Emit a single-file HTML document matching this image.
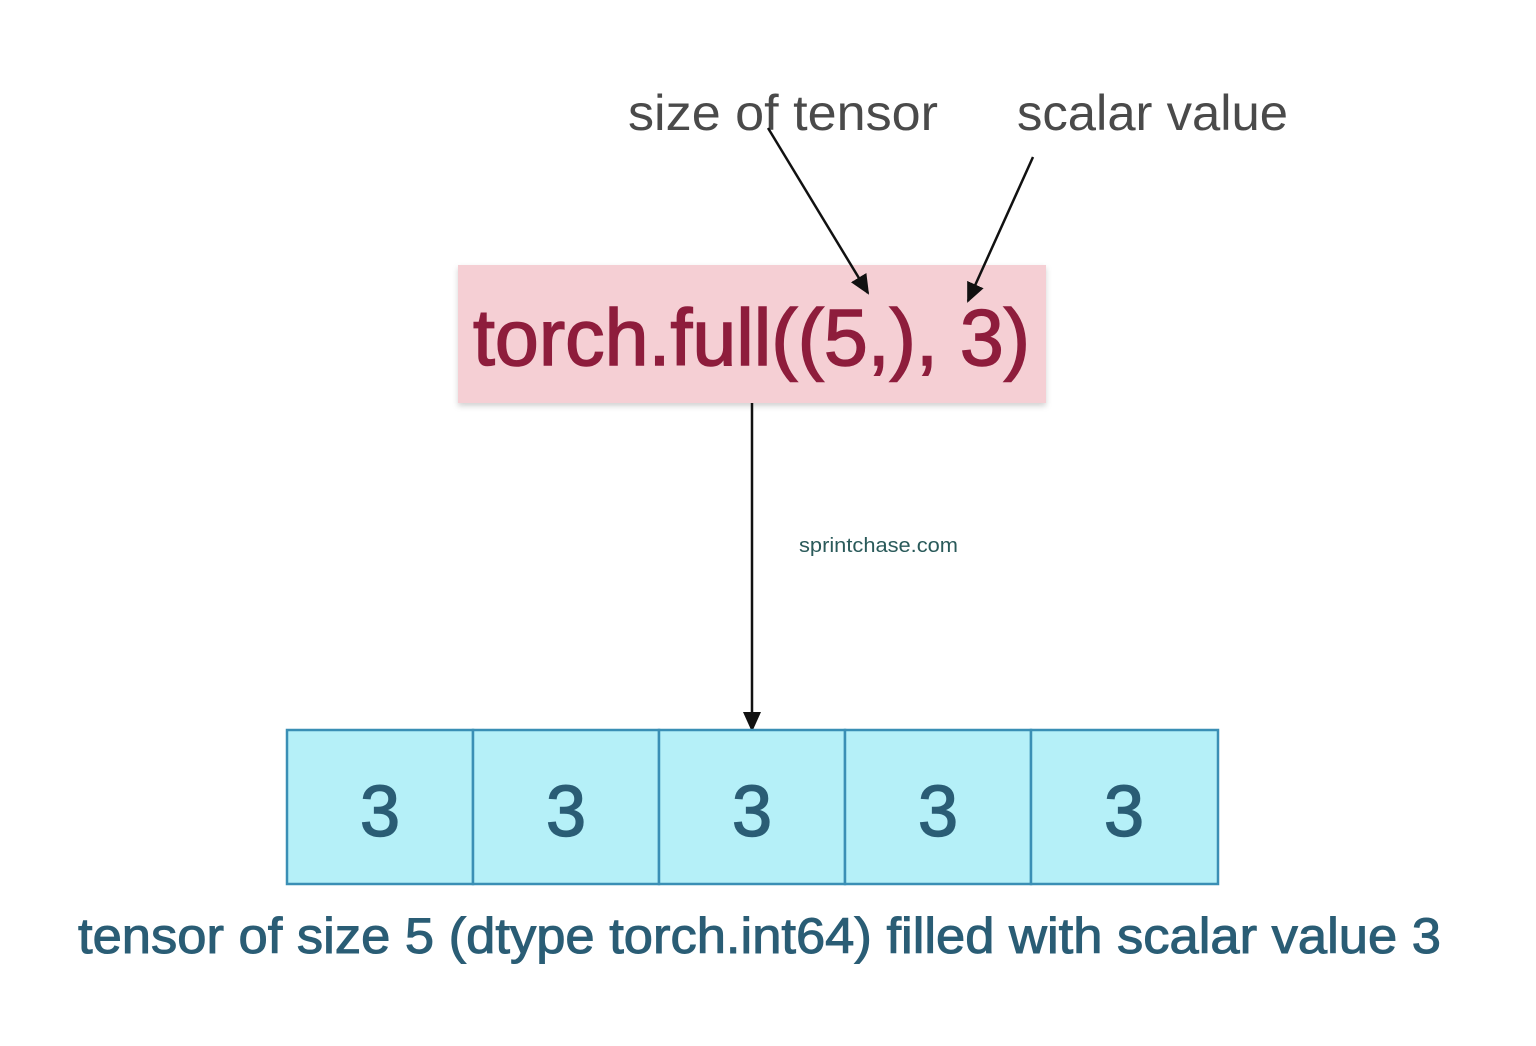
<!DOCTYPE html>
<html><head><meta charset="utf-8"><style>
html,body{margin:0;padding:0;background:#fff;}
svg{display:block;}
text{font-family:"Liberation Sans","DejaVu Sans",sans-serif;}
</style></head><body>
<svg width="1536" height="1046" viewBox="0 0 1536 1046" xmlns="http://www.w3.org/2000/svg">
<defs>
<marker id="ah2" markerWidth="20" markerHeight="20" refX="18" refY="10" orient="auto" markerUnits="userSpaceOnUse" viewBox="0 0 20 20">
<path d="M0,1 L20,10 L0,19 z" fill="#111"/>
</marker>
<filter id="sh" x="-5%" y="-10%" width="110%" height="130%"><feDropShadow dx="0" dy="3" stdDeviation="3" flood-color="#000" flood-opacity="0.18"/></filter>
</defs>
<text x="628" y="130" font-size="50" fill="#4a4a4a" textLength="310" lengthAdjust="spacingAndGlyphs">size of tensor</text>
<text x="1017" y="130" font-size="50" fill="#4a4a4a" textLength="271" lengthAdjust="spacingAndGlyphs">scalar value</text>
<rect x="458" y="265" width="588" height="138" fill="#f5cfd4" filter="url(#sh)"/>
<text x="473" y="365" font-size="80" fill="#8e1d3c" stroke="#8e1d3c" stroke-width="1.5" textLength="557" lengthAdjust="spacingAndGlyphs">torch.full((5,), 3)</text>
<line x1="768" y1="128" x2="868" y2="293" stroke="#111" stroke-width="2.5" marker-end="url(#ah2)"/>
<line x1="1033" y1="157" x2="968" y2="301" stroke="#111" stroke-width="2.5" marker-end="url(#ah2)"/>
<line x1="752" y1="403" x2="752" y2="730" stroke="#111" stroke-width="2.5" marker-end="url(#ah2)"/>
<text x="799" y="552" font-size="20" fill="#2a5a5a" textLength="159" lengthAdjust="spacingAndGlyphs">sprintchase.com</text>
<g fill="#b5f0f8" stroke="#3a8fb5" stroke-width="2.5">
<rect x="287" y="730" width="186" height="154"/>
<rect x="473" y="730" width="186" height="154"/>
<rect x="659" y="730" width="186" height="154"/>
<rect x="845" y="730" width="186" height="154"/>
<rect x="1031" y="730" width="187" height="154"/>
</g>
<g font-size="72" fill="#2a5d75" stroke="#2a5d75" stroke-width="1.5" text-anchor="middle">
<text x="380" y="836">3</text>
<text x="566" y="836">3</text>
<text x="752" y="836">3</text>
<text x="938" y="836">3</text>
<text x="1124" y="836">3</text>
</g>
<text x="78" y="953" font-size="50" fill="#2a5d75" stroke="#2a5d75" stroke-width="1" textLength="1363" lengthAdjust="spacingAndGlyphs">tensor of size 5 (dtype torch.int64) filled with scalar value 3</text>
</svg>
</body></html>
